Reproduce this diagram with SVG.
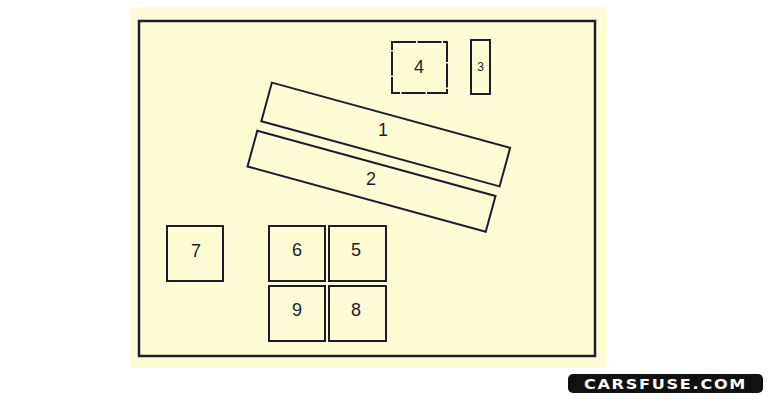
<svg xmlns="http://www.w3.org/2000/svg" width="768" height="402" viewBox="0 0 768 402">
<style>
.box{fill:none;stroke:#1a1d2e;stroke-width:2}
.lbl{font-family:"Liberation Sans",Arial,sans-serif;font-size:18px;fill:#1a1d2e;text-anchor:middle;dominant-baseline:central}
</style>
<rect width="768" height="402" fill="#ffffff"/>
<rect x="130" y="7" width="477" height="361" fill="#fdfcd4"/>
<rect x="139" y="21" width="456" height="335" fill="none" stroke="#1a1d2e" stroke-width="2.5"/>
<g id="n4"><rect class="box" x="392" y="42" width="55" height="51" stroke-dasharray="24 1.5"/><text class="lbl" x="419" y="67">4</text></g>
<g id="n3"><rect class="box" x="471" y="40" width="19" height="54"/><text class="lbl" x="480.5" y="67" style="font-size:12px">3</text></g>
<g id="n1"><rect class="box" x="-123.5" y="-20" width="247" height="40" transform="translate(385.75 134.5) rotate(15.3)"/><text class="lbl" x="383" y="130">1</text></g>
<g id="n2"><rect class="box" x="-123.5" y="-18.5" width="247" height="37" transform="translate(371.5 181.25) rotate(15.3)"/><text class="lbl" x="371" y="179">2</text></g>
<g id="n7"><rect class="box" x="167" y="226" width="56" height="55"/><text class="lbl" x="196" y="251">7</text></g>
<g id="n6"><rect class="box" x="269" y="226" width="56" height="55"/><text class="lbl" x="297" y="250">6</text></g>
<g id="n5"><rect class="box" x="329" y="226" width="57" height="55"/><text class="lbl" x="356" y="250">5</text></g>
<g id="n9"><rect class="box" x="269" y="286" width="56" height="55"/><text class="lbl" x="297" y="310">9</text></g>
<g id="n8"><rect class="box" x="329" y="286" width="57" height="55"/><text class="lbl" x="356" y="310">8</text></g>
<g id="connectors"></g>
<g id="logo"><rect x="568" y="374" width="195" height="19" rx="5" fill="#111"/><text x="665.5" y="384" fill="#fff" font-family="'DejaVu Sans',sans-serif" font-weight="bold" font-size="14" text-anchor="middle" dominant-baseline="central" letter-spacing="1.5" transform="translate(665.5 0) scale(1.15 1) translate(-665.5 0)">CARSFUSE.COM</text></g>
</svg>
